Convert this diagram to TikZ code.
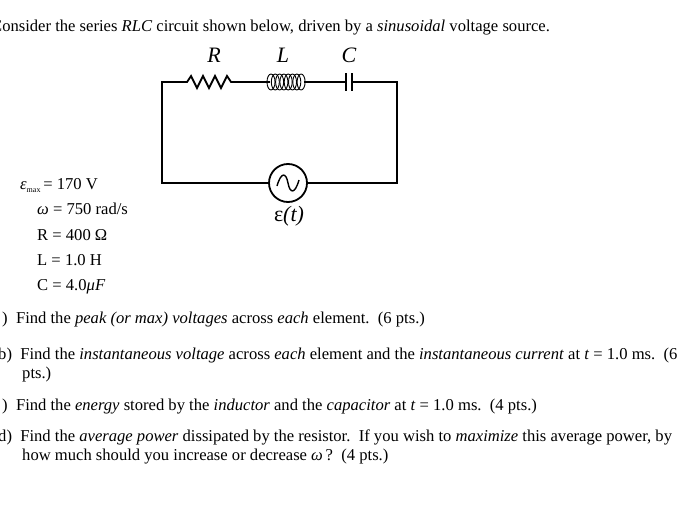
\documentclass[tikz,border=0pt]{standalone}
\usepackage{fontspec}
\setmainfont{Liberation Serif}
\usetikzlibrary{calc}
\begin{document}
\begin{tikzpicture}[x=1pt,y=-1pt,
  wire/.style={line width=1.8pt,line cap=rect},
  txt/.style={anchor=base west,inner sep=0pt,font=\fontsize{16.6}{19}\selectfont},
  lbl/.style={inner sep=0pt,font=\fontsize{22}{26}\selectfont\itshape}]
\useasboundingbox[fill=white] (0,0) rectangle (700,519);
% circuit
\coordinate (tl) at (162,82); \coordinate (tr) at (397,82);
\coordinate (bl) at (162,183); \coordinate (br) at (397,183);
\node[circle,draw,line width=1.8pt,minimum size=38pt,inner sep=0pt] (src) at (288,183) {};
\draw[wire] (tl) -- (bl) -- (src.west);
\draw[wire] (src.east) -- (br) -- (tr);
\draw[wire] (tl) -- (187,82) -- (191,76) -- (197,88) -- (203,76) -- (209,88) -- (215,76) -- (221,88) -- (227,76) -- (231,82) -- (269,82);
\foreach \i in {0,...,7} \draw[line width=0.9pt] (271+\i*4.3,82) ellipse (4pt and 8pt);
\draw[wire] (305,82) -- (346,82);
\draw[line width=2pt] (346,73) -- (346,91) (352,73) -- (352,91);
\draw[wire] (352,82) -- (tr);
\draw[line width=1.4pt] (277,186) .. controls (281,172) and (286,172) .. (288,183) .. controls (290,194) and (295,194) .. (299,180);
\node[lbl] (R) at (214,55) {R};
\node[lbl] (L) at (283,55) {L};
\node[lbl] (C) at (349,55) {C};
\node[inner sep=0pt,font=\fontsize{22}{26}\selectfont] (E) at (289,216) {ε\textit{(t)}};
% text
\node[txt] (t0) at (-9,31) {Consider the series \textit{RLC} circuit shown below, driven by a \textit{sinusoidal} voltage source.};
\node[txt] (p1) at (20,189) {\textit{ε}{\fontsize{8}{9}\selectfont\raisebox{-3pt}{max}}\,= 170 V};
\node[txt] (p2) at (37,214) {\textit{ω} = 750 rad/s};
\node[txt] (p3) at (37,240) {R = 400 Ω};
\node[txt] (p4) at (37,265) {L = 1.0 H};
\node[txt] (p5) at (37,290) {C = 4.0\textit{μF}};
\node[txt] (q1) at (2,323) {)\ \ Find the \textit{peak (or max) voltages} across \textit{each} element.\ \ (6 pts.)};
\node[txt] (q2) at (-2,359) {b)\ \ Find the \textit{instantaneous voltage} across \textit{each} element and the \textit{instantaneous current} at \textit{t} = 1.0 ms.\ \ (6};
\node[txt] (q2b) at (22,378) {pts.)};
\node[txt] (q3) at (2,410) {)\ \ Find the \textit{energy} stored by the \textit{inductor} and the \textit{capacitor} at \textit{t} = 1.0 ms.\ \ (4 pts.)};
\node[txt] (q4) at (-2,441) {d)\ \ Find the \textit{average power} dissipated by the resistor.\ \ If you wish to \textit{maximize} this average power, by};
\node[txt] (q4b) at (22,460) {how much should you increase or decrease \textit{ω}\,?\ \ (4 pts.)};
\end{tikzpicture}
\end{document}
